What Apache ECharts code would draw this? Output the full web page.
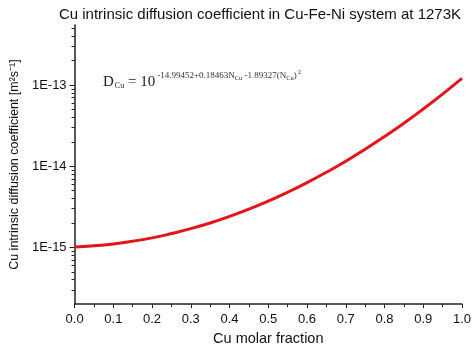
<!DOCTYPE html>
<html>
<head>
<meta charset="utf-8">
<script src="https://cdn.jsdelivr.net/npm/echarts@6/dist/echarts.min.js"></script>
<style>
  html, body { margin: 0; padding: 0; background: #fff; }
  #chart { width: 474px; height: 351px; }
</style>
</head>
<body>
<div id="chart"></div>
<script>
// Cu molar fraction
const fraction = [0, 0.05, 0.1, 0.15, 0.2, 0.25, 0.3, 0.35, 0.4, 0.45, 0.5,
  0.55, 0.6, 0.65, 0.7, 0.75, 0.8, 0.85, 0.9, 0.95, 1.0];
// intrinsic diffusion coefficient, m^2/s
const dCu = [1.01e-15, 1.05e-15, 1.10e-15, 1.19e-15, 1.31e-15, 1.48e-15, 1.70e-15,
  2.00e-15, 2.41e-15, 2.96e-15, 3.72e-15, 4.78e-15, 6.28e-15, 8.42e-15, 1.15e-14,
  1.62e-14, 2.32e-14, 3.39e-14, 5.07e-14, 7.75e-14, 1.21e-13];
const yLabels = [1e-15, 1e-14, 1e-13];
const decades = [1e-16, 1e-15, 1e-14, 1e-13];
const minorSteps = [2, 3, 4, 5, 6, 7, 8, 9];

const yMin = 2e-16, yMax = 5.5e-13;
const minorTicks = [];
decades.forEach(d => minorSteps.forEach(m => {
  const v = d * m;
  if (v > yMin && v < yMax) minorTicks.push(v);
}));

const chart = echarts.init(document.getElementById('chart'));
const axisCol = '#222';
const font = 'Liberation Sans, Arial, sans-serif';
const serif = 'Liberation Serif, Times New Roman, serif';

chart.setOption({
  animation: false,
  title: {
    text: 'Cu intrinsic diffusion coefficient in Cu-Fe-Ni system at 1273K',
    left: 255, top: 2, textAlign: 'center',
    textStyle: { fontFamily: font, fontSize: 15, fontWeight: 'normal', color: '#111' }
  },
  grid: { left: 73, right: 11, top: 25, bottom: 43 },
  xAxis: {
    type: 'value', min: 0, max: 1, interval: 0.1,
    name: 'Cu molar fraction', nameLocation: 'middle', nameGap: 24,
    nameTextStyle: { fontFamily: font, fontSize: 14.5, color: '#111' },
    axisLine: { lineStyle: { color: axisCol, width: 1.5 } },
    axisTick: { length: 4, lineStyle: { color: axisCol } },
    minorTick: { show: true, splitNumber: 2, length: 3, lineStyle: { color: axisCol } },
    axisLabel: { fontFamily: font, fontSize: 13, color: '#111', margin: 9,
      formatter: v => v.toFixed(1) },
    splitLine: { show: false }
  },
  yAxis: [{
    type: 'log', min: yMin, max: yMax, position: 'left',
    name: 'Cu intrinsic diffusion coefficient [m²s⁻¹]',
    nameLocation: 'middle', nameGap: 53,
    nameTextStyle: { fontFamily: font, fontSize: 12.5, color: '#111' },
    axisLine: { show: true, lineStyle: { color: axisCol, width: 1.5 } },
    axisTick: { show: true, length: 5, customValues: yLabels, lineStyle: { color: axisCol } },
    axisLabel: { fontFamily: font, fontSize: 13, color: '#111', margin: 8,
      customValues: yLabels,
      formatter: v => '1E' + Math.round(Math.log10(v)) },
    splitLine: { show: false }
  }, {
    type: 'log', min: yMin, max: yMax, position: 'left',
    axisLine: { show: false },
    axisTick: { show: true, length: 3, customValues: minorTicks, lineStyle: { color: axisCol } },
    axisLabel: { show: false },
    splitLine: { show: false }
  }],
  graphic: [{
    type: 'text', left: 103, top: 66,
    style: {
      text: '{d|D}{dsub|Cu}{eq| = 10}{sup|-14.99452+0.18463N}{supsub|Cu}{sup| -1.89327(N}{supsub|Cu}{sup|)}{sup2|2}',
      rich: {
        d: { fontFamily: serif, fontSize: 15, fill: '#222', lineHeight: 24, verticalAlign: 'bottom' },
        dsub: { fontFamily: serif, fontSize: 8, fill: '#222', lineHeight: 24, verticalAlign: 'bottom', padding: [0, 0, 0, 1] },
        eq: { fontFamily: serif, fontSize: 15, fill: '#222', lineHeight: 24, verticalAlign: 'bottom', padding: [0, 2, 0, 0] },
        sup: { fontFamily: serif, fontSize: 9, fill: '#333', lineHeight: 24, verticalAlign: 'top', padding: [5, 0, 0, 0] },
        supsub: { fontFamily: serif, fontSize: 6.5, fill: '#333', lineHeight: 24, verticalAlign: 'top', padding: [9, 0, 0, 0] },
        sup2: { fontFamily: serif, fontSize: 6.5, fill: '#333', lineHeight: 24, verticalAlign: 'top', padding: [3, 0, 0, 1] }
      }
    }
  }],
  series: [{
    type: 'line', yAxisIndex: 0, smooth: true, showSymbol: false,
    data: fraction.map((f, i) => [f, dCu[i]]),
    lineStyle: { color: '#e3141b', width: 3 }
  }]
});
</script>
</body>
</html>
